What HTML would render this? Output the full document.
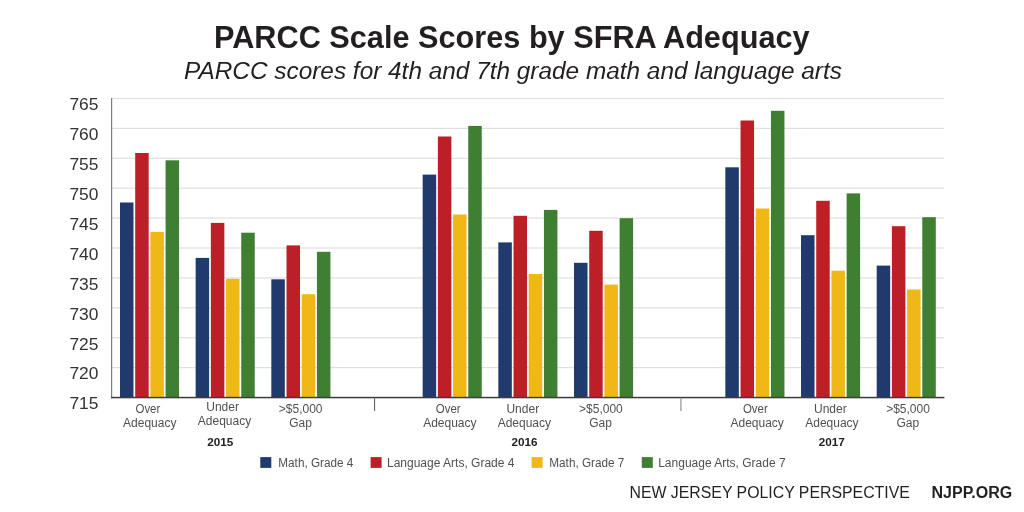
<!DOCTYPE html>
<html><head><meta charset="utf-8"><style>
html,body{margin:0;padding:0;background:#fff;width:1024px;height:512px;overflow:hidden}
svg{display:block;font-family:"Liberation Sans",sans-serif}
.g{will-change:transform}
</style></head><body>
<svg width="1024" height="512" viewBox="0 0 1024 512">
<rect width="1024" height="512" fill="#fff"/>
<rect x="111.7" y="367.00" width="832.70" height="1.2" fill="#e0e0e0"/>
<rect x="111.7" y="337.10" width="832.70" height="1.2" fill="#e0e0e0"/>
<rect x="111.7" y="307.20" width="832.70" height="1.2" fill="#e0e0e0"/>
<rect x="111.7" y="277.30" width="832.70" height="1.2" fill="#e0e0e0"/>
<rect x="111.7" y="247.40" width="832.70" height="1.2" fill="#e0e0e0"/>
<rect x="111.7" y="217.50" width="832.70" height="1.2" fill="#e0e0e0"/>
<rect x="111.7" y="187.60" width="832.70" height="1.2" fill="#e0e0e0"/>
<rect x="111.7" y="157.70" width="832.70" height="1.2" fill="#e0e0e0"/>
<rect x="111.7" y="127.80" width="832.70" height="1.2" fill="#e0e0e0"/>
<rect x="111.7" y="97.90" width="832.70" height="1.2" fill="#e0e0e0"/>
<rect x="119.98" y="202.50" width="13.5" height="195.00" fill="#213a6e"/>
<rect x="135.19" y="153.00" width="13.5" height="244.50" fill="#bc2026"/>
<rect x="150.38" y="231.90" width="13.5" height="165.60" fill="#efb817"/>
<rect x="165.58" y="160.30" width="13.5" height="237.20" fill="#3f7f32"/>
<rect x="195.65" y="257.90" width="13.5" height="139.60" fill="#213a6e"/>
<rect x="210.85" y="222.90" width="13.5" height="174.60" fill="#bc2026"/>
<rect x="226.05" y="278.75" width="13.5" height="118.75" fill="#efb817"/>
<rect x="241.25" y="232.70" width="13.5" height="164.80" fill="#3f7f32"/>
<rect x="271.32" y="279.30" width="13.5" height="118.20" fill="#213a6e"/>
<rect x="286.52" y="245.40" width="13.5" height="152.10" fill="#bc2026"/>
<rect x="301.72" y="294.20" width="13.5" height="103.30" fill="#efb817"/>
<rect x="316.92" y="251.80" width="13.5" height="145.70" fill="#3f7f32"/>
<rect x="422.66" y="174.60" width="13.5" height="222.90" fill="#213a6e"/>
<rect x="437.86" y="136.50" width="13.5" height="261.00" fill="#bc2026"/>
<rect x="453.06" y="214.50" width="13.5" height="183.00" fill="#efb817"/>
<rect x="468.26" y="125.90" width="13.5" height="271.60" fill="#3f7f32"/>
<rect x="498.33" y="242.40" width="13.5" height="155.10" fill="#213a6e"/>
<rect x="513.53" y="215.80" width="13.5" height="181.70" fill="#bc2026"/>
<rect x="528.74" y="274.00" width="13.5" height="123.50" fill="#efb817"/>
<rect x="543.93" y="209.90" width="13.5" height="187.60" fill="#3f7f32"/>
<rect x="574.01" y="262.80" width="13.5" height="134.70" fill="#213a6e"/>
<rect x="589.21" y="230.80" width="13.5" height="166.70" fill="#bc2026"/>
<rect x="604.41" y="284.60" width="13.5" height="112.90" fill="#efb817"/>
<rect x="619.61" y="218.20" width="13.5" height="179.30" fill="#3f7f32"/>
<rect x="725.35" y="167.30" width="13.5" height="230.20" fill="#213a6e"/>
<rect x="740.55" y="120.50" width="13.5" height="277.00" fill="#bc2026"/>
<rect x="755.75" y="208.50" width="13.5" height="189.00" fill="#efb817"/>
<rect x="770.95" y="110.80" width="13.5" height="286.70" fill="#3f7f32"/>
<rect x="801.02" y="235.20" width="13.5" height="162.30" fill="#213a6e"/>
<rect x="816.22" y="200.80" width="13.5" height="196.70" fill="#bc2026"/>
<rect x="831.42" y="270.70" width="13.5" height="126.80" fill="#efb817"/>
<rect x="846.62" y="193.40" width="13.5" height="204.10" fill="#3f7f32"/>
<rect x="876.69" y="265.60" width="13.5" height="131.90" fill="#213a6e"/>
<rect x="891.89" y="226.20" width="13.5" height="171.30" fill="#bc2026"/>
<rect x="907.09" y="289.50" width="13.5" height="108.00" fill="#efb817"/>
<rect x="922.29" y="217.20" width="13.5" height="180.30" fill="#3f7f32"/>
<rect x="111" y="98" width="1.2" height="300" fill="#7d7d7d"/>
<rect x="111" y="396.8" width="833.40" height="1.5" fill="#3c3c3c"/>
<rect x="374" y="397.5" width="1.1" height="13.5" fill="#666"/>
<rect x="680.4" y="397.5" width="1.1" height="13.5" fill="#888"/>
<rect x="260.3" y="457.1" width="11" height="10.8" fill="#213a6e"/>
<rect x="370.6" y="457.1" width="11" height="10.8" fill="#bc2026"/>
<rect x="531.6" y="457.1" width="11" height="10.8" fill="#efb817"/>
<rect x="641.8" y="457.1" width="11" height="10.8" fill="#3f7f32"/>
<g class="g"><text x="98.4" y="409.30" font-size="16.6" text-anchor="end" font-weight="normal" font-style="normal" fill="#333" textLength="29.0" lengthAdjust="spacingAndGlyphs">715</text>
<text x="98.4" y="379.40" font-size="16.6" text-anchor="end" font-weight="normal" font-style="normal" fill="#333" textLength="29.0" lengthAdjust="spacingAndGlyphs">720</text>
<text x="98.4" y="349.50" font-size="16.6" text-anchor="end" font-weight="normal" font-style="normal" fill="#333" textLength="29.0" lengthAdjust="spacingAndGlyphs">725</text>
<text x="98.4" y="319.60" font-size="16.6" text-anchor="end" font-weight="normal" font-style="normal" fill="#333" textLength="29.0" lengthAdjust="spacingAndGlyphs">730</text>
<text x="98.4" y="289.70" font-size="16.6" text-anchor="end" font-weight="normal" font-style="normal" fill="#333" textLength="29.0" lengthAdjust="spacingAndGlyphs">735</text>
<text x="98.4" y="259.80" font-size="16.6" text-anchor="end" font-weight="normal" font-style="normal" fill="#333" textLength="29.0" lengthAdjust="spacingAndGlyphs">740</text>
<text x="98.4" y="229.90" font-size="16.6" text-anchor="end" font-weight="normal" font-style="normal" fill="#333" textLength="29.0" lengthAdjust="spacingAndGlyphs">745</text>
<text x="98.4" y="200.00" font-size="16.6" text-anchor="end" font-weight="normal" font-style="normal" fill="#333" textLength="29.0" lengthAdjust="spacingAndGlyphs">750</text>
<text x="98.4" y="170.10" font-size="16.6" text-anchor="end" font-weight="normal" font-style="normal" fill="#333" textLength="29.0" lengthAdjust="spacingAndGlyphs">755</text>
<text x="98.4" y="140.20" font-size="16.6" text-anchor="end" font-weight="normal" font-style="normal" fill="#333" textLength="29.0" lengthAdjust="spacingAndGlyphs">760</text>
<text x="98.4" y="110.30" font-size="16.6" text-anchor="end" font-weight="normal" font-style="normal" fill="#333" textLength="29.0" lengthAdjust="spacingAndGlyphs">765</text>
<text x="147.9" y="412.8" font-size="12" text-anchor="middle" font-weight="normal" font-style="normal" fill="#505050" textLength="24.8" lengthAdjust="spacingAndGlyphs">Over</text>
<text x="149.75" y="426.9" font-size="12" text-anchor="middle" font-weight="normal" font-style="normal" fill="#505050" >Adequacy</text>
<text x="222.6" y="410.8" font-size="12" text-anchor="middle" font-weight="normal" font-style="normal" fill="#505050" >Under</text>
<text x="224.5" y="424.9" font-size="12" text-anchor="middle" font-weight="normal" font-style="normal" fill="#505050" >Adequacy</text>
<text x="300.7" y="412.8" font-size="12" text-anchor="middle" font-weight="normal" font-style="normal" fill="#505050" >&gt;$5,000</text>
<text x="300.6" y="426.9" font-size="12" text-anchor="middle" font-weight="normal" font-style="normal" fill="#505050" >Gap</text>
<text x="448.2" y="412.8" font-size="12" text-anchor="middle" font-weight="normal" font-style="normal" fill="#505050" textLength="24.8" lengthAdjust="spacingAndGlyphs">Over</text>
<text x="449.85" y="426.9" font-size="12" text-anchor="middle" font-weight="normal" font-style="normal" fill="#505050" >Adequacy</text>
<text x="522.8" y="412.8" font-size="12" text-anchor="middle" font-weight="normal" font-style="normal" fill="#505050" >Under</text>
<text x="524.35" y="426.9" font-size="12" text-anchor="middle" font-weight="normal" font-style="normal" fill="#505050" >Adequacy</text>
<text x="600.9" y="412.8" font-size="12" text-anchor="middle" font-weight="normal" font-style="normal" fill="#505050" >&gt;$5,000</text>
<text x="600.6" y="426.9" font-size="12" text-anchor="middle" font-weight="normal" font-style="normal" fill="#505050" >Gap</text>
<text x="755.35" y="412.8" font-size="12" text-anchor="middle" font-weight="normal" font-style="normal" fill="#505050" textLength="24.8" lengthAdjust="spacingAndGlyphs">Over</text>
<text x="757.2" y="426.9" font-size="12" text-anchor="middle" font-weight="normal" font-style="normal" fill="#505050" >Adequacy</text>
<text x="830.35" y="412.8" font-size="12" text-anchor="middle" font-weight="normal" font-style="normal" fill="#505050" >Under</text>
<text x="831.95" y="426.9" font-size="12" text-anchor="middle" font-weight="normal" font-style="normal" fill="#505050" >Adequacy</text>
<text x="908.0" y="412.8" font-size="12" text-anchor="middle" font-weight="normal" font-style="normal" fill="#505050" >&gt;$5,000</text>
<text x="907.85" y="426.9" font-size="12" text-anchor="middle" font-weight="normal" font-style="normal" fill="#505050" >Gap</text>
<text x="220.25" y="446.1" font-size="11.7" text-anchor="middle" font-weight="bold" font-style="normal" fill="#222" >2015</text>
<text x="524.5" y="446.1" font-size="11.7" text-anchor="middle" font-weight="bold" font-style="normal" fill="#222" >2016</text>
<text x="831.85" y="446.1" font-size="11.7" text-anchor="middle" font-weight="bold" font-style="normal" fill="#222" >2017</text>
<text x="278.3" y="466.8" font-size="12" text-anchor="start" font-weight="normal" font-style="normal" fill="#505050" textLength="75.1" lengthAdjust="spacingAndGlyphs">Math, Grade 4</text>
<text x="387.0" y="466.8" font-size="12" text-anchor="start" font-weight="normal" font-style="normal" fill="#505050" >Language Arts, Grade 4</text>
<text x="549.3" y="466.8" font-size="12" text-anchor="start" font-weight="normal" font-style="normal" fill="#505050" textLength="75.1" lengthAdjust="spacingAndGlyphs">Math, Grade 7</text>
<text x="658.2" y="466.8" font-size="12" text-anchor="start" font-weight="normal" font-style="normal" fill="#505050" >Language Arts, Grade 7</text>
<text x="511.8" y="47.7" font-size="31.5" text-anchor="middle" font-weight="bold" font-style="normal" fill="#231f20" textLength="595.6" lengthAdjust="spacingAndGlyphs">PARCC Scale Scores by SFRA Adequacy</text>
<text x="513.0" y="79.2" font-size="24.7" text-anchor="middle" font-weight="normal" font-style="italic" fill="#231f20" textLength="657.9" lengthAdjust="spacingAndGlyphs">PARCC scores for 4th and 7th grade math and language arts</text>
<text x="629.5" y="497.8" font-size="15.6" text-anchor="start" font-weight="normal" font-style="normal" fill="#231f20" textLength="280.3" lengthAdjust="spacingAndGlyphs">NEW JERSEY POLICY PERSPECTIVE</text>
<text x="931.5" y="497.7" font-size="16" text-anchor="start" font-weight="bold" font-style="normal" fill="#231f20" id="org">NJPP.ORG</text></g>
</svg>
</body></html>
